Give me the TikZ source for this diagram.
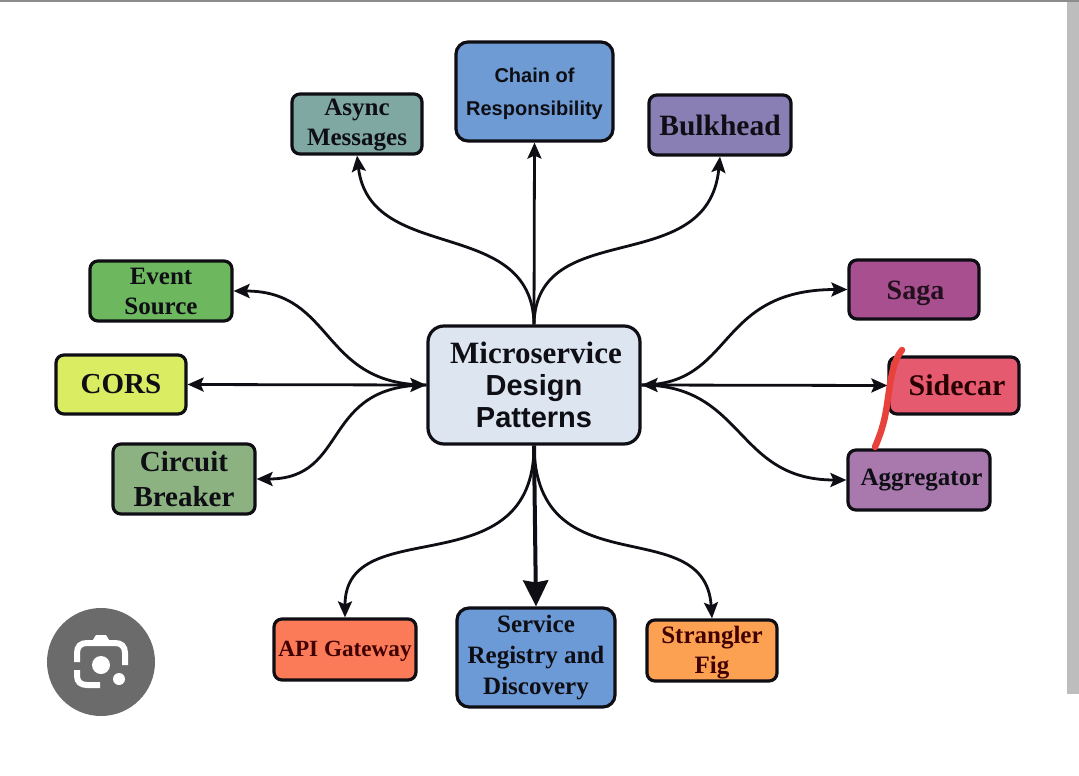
\documentclass[tikz,border=0pt]{standalone}
\usepackage{fontspec}
\setmainfont{Liberation Serif}
\newfontfamily\hv{Liberation Sans}
\usetikzlibrary{arrows.meta}
\definecolor{inkd}{HTML}{0E0E14}
\definecolor{cAsync}{HTML}{7FA8A3}
\definecolor{cChain}{HTML}{6E9BD3}
\definecolor{cBulk}{HTML}{8A7FB5}
\definecolor{cEvent}{HTML}{6DB85E}
\definecolor{cCors}{HTML}{D9EC62}
\definecolor{cCirc}{HTML}{8DB282}
\definecolor{cCentral}{HTML}{DDE6F0}
\definecolor{cSaga}{HTML}{A84F8F}
\definecolor{cSide}{HTML}{E65A70}
\definecolor{cAggr}{HTML}{A979AE}
\definecolor{cApi}{HTML}{FB7B59}
\definecolor{cServ}{HTML}{6C9AD6}
\definecolor{cStra}{HTML}{FCA052}
\definecolor{cRed}{HTML}{E8423C}
\definecolor{cCam}{HTML}{6B6B6B}
\tikzset{
  box/.style={draw=inkd,line width=3.2pt,rounded corners=8pt,inner sep=0pt,align=center,font=\bfseries,text=inkd},
  tipS/.tip={Stealth[length=16pt,width=14pt,inset=3pt]},
  link/.style={draw=inkd,line width=2.8pt,-tipS},
  wl/.style={line width=6pt,draw=white}
}
\begin{document}
\begin{tikzpicture}[x=1pt,y=-1pt]
\useasboundingbox (0,0) rectangle (1079,776);
\fill[white] (0,0) rectangle (1079,776);
\fill[black!45] (0,0) rectangle (1079,2);
\fill[black!26] (1067,2) rectangle (1079,694);
% nodes
\node[box,fill=cAsync,minimum width=130pt,minimum height=60pt,font=\bfseries\fontsize{25}{30}\selectfont] (async) at (357,124) {\rule{0pt}{19pt}Async\\Messages};
\node[box,fill=cChain,minimum width=157pt,minimum height=99pt,rounded corners=12pt,font=\hv\bfseries\fontsize{20}{33}\selectfont] (chain) at (534.5,91.5) {\rule{0pt}{19pt}Chain of\\Responsibility};
\node[box,fill=cBulk,minimum width=142pt,minimum height=60pt,font=\bfseries\fontsize{29.5}{30}\selectfont] (bulk) at (720,125) {Bulkhead};
\node[box,fill=cEvent,minimum width=142pt,minimum height=60pt,font=\bfseries\fontsize{25}{30}\selectfont] (event) at (161,291) {Event\\Source};
\node[box,fill=cCors,minimum width=130pt,minimum height=59pt,font=\bfseries\fontsize{29}{30}\selectfont] (cors) at (121,384.5) {CORS};
\node[box,fill=cCirc,minimum width=142pt,minimum height=70pt,font=\bfseries\fontsize{29}{35}\selectfont] (circ) at (184,479) {Circuit\\Breaker};
\node[box,fill=cCentral,minimum width=212pt,minimum height=118pt,rounded corners=16pt,font=\hv\bfseries\fontsize{29}{32}\selectfont] (central) at (534,385) {\hspace*{4pt}{\rmfamily\fontsize{31}{32}\selectfont\bfseries Microservice}\\[0pt]Design\\Patterns};
\node[box,fill=cSaga,minimum width=130pt,minimum height=59pt,text=black!80!cSaga,font=\bfseries\fontsize{28}{30}\selectfont] (saga) at (914,289.5) {\rule{0pt}{27pt}\hspace*{3pt}Saga};
\node[box,fill=cSide,minimum width=130pt,minimum height=57pt,text=black!85!red,font=\bfseries\fontsize{30}{30}\selectfont] (side) at (954,385.5) {\hspace*{6pt}Sidecar};
\node[box,fill=cAggr,minimum width=142pt,minimum height=60pt,font=\bfseries\fontsize{25}{30}\selectfont] (aggr) at (919,480) {\hspace*{5pt}Aggregator};
\node[box,fill=cApi,minimum width=142pt,minimum height=61pt,text=black!75!red,font=\bfseries\fontsize{23.2}{30}\selectfont] (api) at (345,649.5) {\rule{0pt}{18pt}API Gateway};
\node[box,fill=cServ,minimum width=158pt,minimum height=99pt,rounded corners=12pt,font=\bfseries\fontsize{25}{31}\selectfont] (serv) at (536,657.5) {Service\\Registry and\\Discovery};
\node[box,fill=cStra,minimum width=130pt,minimum height=61pt,text=black!75!red,font=\bfseries\fontsize{25}{30}\selectfont] (stra) at (712,650.5) {\rule{0pt}{21pt}Strangler\\Fig};
\coordinate (rstub) at (665,385);
% connectors
\draw[link] (central.north) .. controls (532,215) and (370,265) .. (async.south);
\draw[link] (central.north) -- (chain.south);
\draw[link] (central.north) .. controls (536,215) and (708,280) .. (bulk.south);
\draw[link] (central.west) .. controls (320,385) and (335,291) .. (event.east);
\draw[link,tipS-tipS] (central.west) -- (cors.east);
\draw[link] (central.west) .. controls (320,385) and (350,479) .. (circ.east);
\draw[link] (central.east) .. controls (735,385) and (715,289.5) .. (saga.west);
\draw[link] (central.east) -- (side.west);
\draw[draw=inkd,line width=2.8pt,tipS-] (central.east) -- (rstub);
\draw[link] (central.east) .. controls (745,385) and (735,480) .. (aggr.west);
\draw[link] (central.south) .. controls (534,590) and (345,510) .. (api.north);
\draw[link,line width=4pt,-{Stealth[length=26pt,width=25pt,inset=2pt]}] (central.south) -- (serv.north);
\draw[link] (central.south) .. controls (536,590) and (705,510) .. (stra.north);
% red pen stroke
\draw[cRed,line width=6.5pt,line cap=round] (902,350) .. controls (892,362) and (890,385) .. (887,405) .. controls (884,425) and (880,435) .. (875,447);
% camera badge
\fill[cCam] (101,662) circle (54pt);
\node[circle,fill=white,minimum size=18pt,inner sep=0pt] (lens) at (101,665) {};
\node[circle,fill=white,minimum size=12pt,inner sep=0pt] (dot) at (119,679) {};
\draw[wl] (77,662) -- (77,653) .. controls (77,646) and (81,643) .. (87,643) -- (115,643) .. controls (121,643) and (125,646) .. (125,653) -- (125,665);
\draw[wl] (77,670) -- (77,676) .. controls (77,682) and (81,685) .. (87,685) -- (100,685);
\fill[white] (91,643) -- (96,635) -- (106,635) -- (111,643) -- cycle;
\end{tikzpicture}
\end{document}
